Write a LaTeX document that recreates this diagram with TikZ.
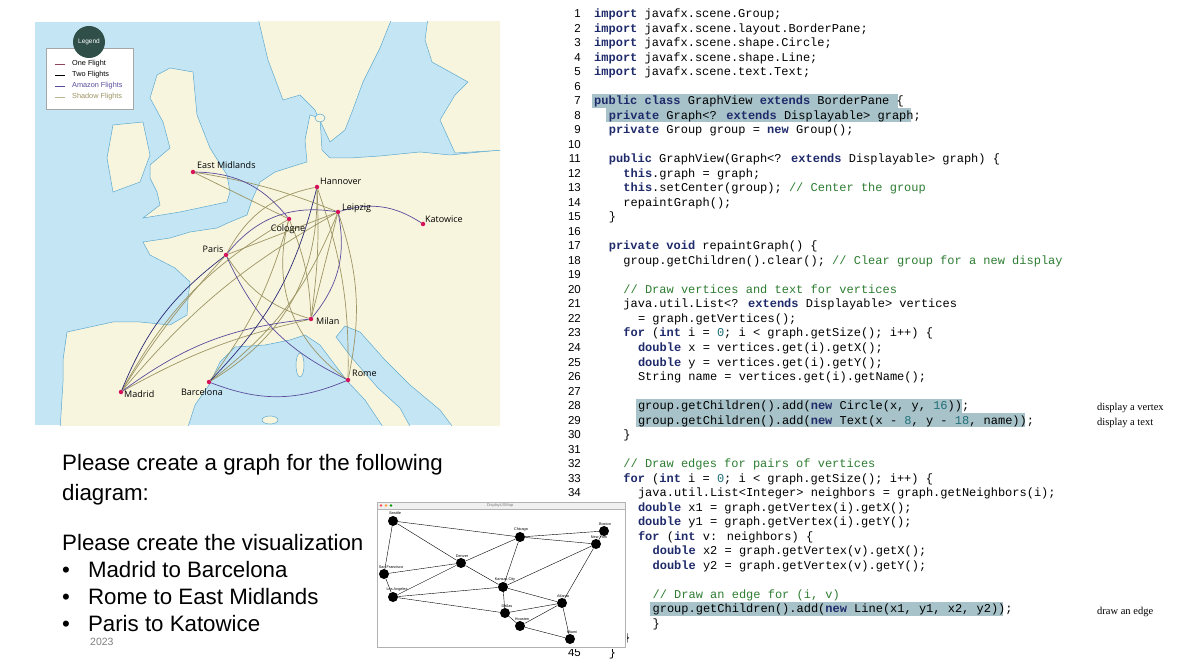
\documentclass[tikz,border=0pt]{standalone}
\usepackage{fontspec}
\setmainfont{Liberation Sans}
\newfontfamily\codefont{Liberation Mono}
\newfontfamily\serfont{Liberation Serif}
\newfontfamily\mapfont{Open Sans}
\definecolor{kwc}{HTML}{1F2A6B}
\definecolor{cmc}{HTML}{2E7D32}
\definecolor{nmc}{HTML}{1F6F7A}
\definecolor{hl}{HTML}{A7C2C8}
\definecolor{sea}{HTML}{C4E5F4}
\definecolor{land}{HTML}{F8F5DE}
\definecolor{coast}{HTML}{5BA9D0}
\definecolor{purp}{HTML}{5A4C9C}
\definecolor{navy}{HTML}{2B2A72}
\definecolor{oliv}{HTML}{9C9463}
\definecolor{city}{HTML}{D6135A}
\definecolor{legc}{HTML}{2F4F48}
\definecolor{onef}{HTML}{8C465A}
\newcommand\kw[1]{\textcolor{kwc}{\textbf{#1}}}
\newcommand\cm[1]{\textcolor{cmc}{#1}}
\newcommand\nm[1]{\textcolor{nmc}{#1}}
\newcommand\cl[3]{\node[codeline] (c#1) at ({594+#2*7.3},{18+(#1-1)*14.5}) {#3};}
\newcommand\lnumb[1]{\node[lnum] (n#1) at (581,{18+(#1-1)*14.5}) {#1};}
\tikzset{
  codeline/.style={anchor=base west,inner sep=0,font=\codefont\fontsize{12.0}{14}\selectfont},
  lnum/.style={anchor=base east,inner sep=0,font=\fontsize{11.5}{14}\selectfont},
  citydot/.style={circle,fill=city,inner sep=0,minimum size=4.5},
  cityname/.style={inner sep=0,font=\mapfont\fontsize{9}{10}\selectfont},
  fl/.style={line width=0.7pt},
  usv/.style={circle,fill=black,inner sep=0,minimum size=10},
  uslab/.style={inner sep=0,font=\fontsize{3.8}{4}\selectfont},
  bigtext/.style={anchor=base west,inner sep=0,font=\fontsize{22.3}{26}\selectfont},
  note/.style={anchor=base west,inner sep=0,font=\serfont\fontsize{10.5}{12}\selectfont}
}
\begin{document}
\begin{tikzpicture}[x=1pt,y=-1pt]
\useasboundingbox (0,0) rectangle (1202,668);
\fill[white] (0,0) rectangle (1202,668);
\begin{scope}
\clip (35,22) rectangle (500,425);
\fill[sea] (35,22) rectangle (500,425);
\begin{scope}[fill=land,draw=coast,line width=0.5pt]
\filldraw (500,150) -- (450,155) -- (420,152) -- (380,156) -- (350,158) -- (330,158) -- (322,150) -- (320,118) -- (310,115) -- (305,140) -- (307,162) -- (297,165) -- (275,172) -- (260,182) -- (252,200) -- (247,215) -- (230,222) -- (217,228) -- (190,232) -- (170,238) -- (143,242) -- (150,255) -- (175,268) -- (190,282) -- (188,300) -- (187,315) -- (170,325) -- (140,322) -- (113,322) -- (67,332) -- (63,360) -- (63,382) -- (60,430) -- (187,430) -- (195,405) -- (209,385) -- (220,362) -- (235,347) -- (265,345) -- (290,340) -- (305,335) -- (320,345) -- (335,365) -- (348,382) -- (365,400) -- (385,430) -- (412,430) -- (400,408) -- (378,388) -- (352,358) -- (336,337) -- (345,326) -- (360,332) -- (385,360) -- (410,385) -- (440,410) -- (455,430) -- (505,430) -- (505,150) -- cycle;
\filldraw (170,68) -- (193,72) -- (197,115) -- (210,148) -- (227,175) -- (230,192) -- (227,202) -- (180,212) -- (143,218) -- (160,205) -- (157,192) -- (150,178) -- (150,165) -- (170,148) -- (163,122) -- (150,98) -- (157,75) -- cycle;
\filldraw (113,125) -- (143,122) -- (150,155) -- (140,182) -- (113,192) -- (107,158) -- cycle;
\filldraw (258,18) -- (268,60) -- (283,100) -- (300,95) -- (315,110) -- (330,142) -- (345,130) -- (352,112) -- (363,82) -- (380,48) -- (392,18) -- cycle;
\filldraw (428,18) -- (505,18) -- (505,150) -- (455,153) -- (440,120) -- (455,95) -- (468,82) -- (432,62) -- (425,40) -- cycle;
\filldraw (300,365) ellipse (4 and 12);
\filldraw (270,420) ellipse (8 and 4);
\filldraw (320,118) ellipse (5 and 4);
\end{scope}
\node[citydot] (em) at (193,172) {};
\node[citydot] (han) at (317,187) {};
\node[citydot] (leip) at (338,212) {};
\node[citydot] (kat) at (423,224) {};
\node[citydot] (col) at (289,219) {};
\node[citydot] (par) at (226,255) {};
\node[citydot] (mil) at (311,319) {};
\node[citydot] (rome) at (348,380) {};
\node[citydot] (bar) at (209,382) {};
\node[citydot] (mad) at (121,392) {};
\begin{scope}[fl,draw=oliv]
\draw (em) -- (col);
\draw (em) to[bend left=6] (leip);
\draw (mad) to[bend left=5] (par);
\draw (mad) to[bend left=8] (mil);
\draw (mad) to[bend left=10] (leip);
\draw (mad) to[bend left=15] (col);
\draw (bar) to[bend right=15] (leip);
\draw (bar) to[bend right=10] (col);
\draw (bar) to[bend right=30] (han);
\draw (par) -- (leip);
\draw (par) to[bend left=25] (han);
\draw (par) to[bend right=20] (mil);
\draw (leip) -- (mil);
\draw (han) to[bend left=5] (mil);
\draw (col) to[bend left=10] (mil);
\draw (leip) to[bend left=15] (rome);
\draw (han) to[bend left=10] (rome);
\draw (col) to[bend right=35] (rome);
\end{scope}
\begin{scope}[fl,draw=purp]
\draw (em) to[bend left=25] (col);
\draw (leip) to[bend left=25] (kat);
\draw (bar) to[bend right=22] (rome);
\draw (par) to[bend right=20] (rome);
\draw (mad) to[bend left=15] (mil);
\draw (par) to[bend left=30] (leip);
\draw (leip) to[bend left=25] (mil);
\end{scope}
\begin{scope}[fl,draw=navy]
\draw (mad) to[bend left=15] (par);
\draw (bar) to[bend right=15] (han);
\end{scope}
\node[cityname,anchor=west] (lem) at (197,165) {East Midlands};
\node[cityname,anchor=west] (lhan) at (320,181) {Hannover};
\node[cityname,anchor=west] (lleip) at (342,208) {Leipzig};
\node[cityname,anchor=west] (lkat) at (425,219) {Katowice};
\node[cityname] (lcol) at (288,229) {Cologne};
\node[cityname] (lpar) at (213,249) {Paris};
\node[cityname,anchor=west] (lmil) at (316,321) {Milan};
\node[cityname,anchor=west] (lrome) at (352,373) {Rome};
\node[cityname] (lbar) at (202,392) {Barcelona};
\node[cityname,anchor=west] (lmad) at (124,394) {Madrid};
\draw[fill=white,draw=gray!70] (46,48) rectangle (133,109);
\node[circle,fill=legc,inner sep=0,minimum size=32,text=white,font=\fontsize{6.5}{7}\selectfont] (leg) at (89,42) {Legend};
\begin{scope}[line width=0.8pt]
\draw[onef] (55,64) -- (65,64);
\draw[black] (55,75) -- (65,75);
\draw[purp] (55,86) -- (65,86);
\draw[oliv!70] (55,97) -- (65,97);
\end{scope}
\begin{scope}[every node/.style={anchor=west,inner sep=0,font=\fontsize{7.3}{8}\selectfont}]
\node (lg1) at (72,64) {One Flight};
\node (lg2) at (72,75) {Two Flights};
\node[text=purp] (lg3) at (72,86) {Amazon Flights};
\node[text=oliv] (lg4) at (72,97) {Shadow Flights};
\end{scope}
\end{scope}
\node[bigtext] (t1) at (62,470) {Please create a graph for the following};
\node[bigtext] (t2) at (62,500) {diagram:};
\node[bigtext] (t3) at (62,550) {Please create the visualization};
\node[bigtext] (b1) at (62,577) {\textbullet\hspace{18pt}Madrid to Barcelona};
\node[bigtext] (b2) at (62,604) {\textbullet\hspace{18pt}Rome to East Midlands};
\node[bigtext] (b3) at (62,631) {\textbullet\hspace{18pt}Paris to Katowice};
\node[anchor=base west,inner sep=0,text=gray,font=\fontsize{10.5}{12}\selectfont] (yr) at (90,645) {2023};
\fill[hl] (592,94) rectangle (898,108);
\fill[hl] (606,108) rectangle (911,122);
\fill[hl] (636,399) rectangle (962,413);
\fill[hl] (636,413) rectangle (1025,427);
\fill[hl] (650,602) rectangle (1003,616);
\foreach \i in {1,...,34,45} {\lnumb{\i}}
\cl{1}{0}{\kw{import} javafx.scene.Group;}
\cl{2}{0}{\kw{import} javafx.scene.layout.BorderPane;}
\cl{3}{0}{\kw{import} javafx.scene.shape.Circle;}
\cl{4}{0}{\kw{import} javafx.scene.shape.Line;}
\cl{5}{0}{\kw{import} javafx.scene.text.Text;}
\cl{7}{0}{\kw{public class} GraphView \kw{extends} BorderPane \{}
\cl{8}{2}{\kw{private} Graph<? \kw{extends} Displayable> graph;}
\cl{9}{2}{\kw{private} Group group = \kw{new} Group();}
\cl{11}{2}{\kw{public} GraphView(Graph<? \kw{extends} Displayable> graph) \{}
\cl{12}{4}{\kw{this}.graph = graph;}
\cl{13}{4}{\kw{this}.setCenter(group); \cm{// Center the group}}
\cl{14}{4}{repaintGraph();}
\cl{15}{2}{\}}
\cl{17}{2}{\kw{private void} repaintGraph() \{}
\cl{18}{4}{group.getChildren().clear(); \cm{// Clear group for a new display}}
\cl{20}{4}{\cm{// Draw vertices and text for vertices}}
\cl{21}{4}{java.util.List<? \kw{extends} Displayable> vertices}
\cl{22}{6}{= graph.getVertices();}
\cl{23}{4}{\kw{for} (\kw{int} i = \nm{0}; i < graph.getSize(); i++) \{}
\cl{24}{6}{\kw{double} x = vertices.get(i).getX();}
\cl{25}{6}{\kw{double} y = vertices.get(i).getY();}
\cl{26}{6}{String name = vertices.get(i).getName();}
\cl{28}{6}{group.getChildren().add(\kw{new} Circle(x, y, \nm{16}));}
\cl{29}{6}{group.getChildren().add(\kw{new} Text(x - \nm{8}, y - \nm{18}, name));}
\cl{30}{4}{\}}
\cl{32}{4}{\cm{// Draw edges for pairs of vertices}}
\cl{33}{4}{\kw{for} (\kw{int} i = \nm{0}; i < graph.getSize(); i++) \{}
\cl{34}{6}{java.util.List<Integer> neighbors = graph.getNeighbors(i);}
\cl{35}{6}{\kw{double} x1 = graph.getVertex(i).getX();}
\cl{36}{6}{\kw{double} y1 = graph.getVertex(i).getY();}
\cl{37}{6}{\kw{for} (\kw{int} v: neighbors) \{}
\cl{38}{8}{\kw{double} x2 = graph.getVertex(v).getX();}
\cl{39}{8}{\kw{double} y2 = graph.getVertex(v).getY();}
\cl{41}{8}{\cm{// Draw an edge for (i, v)}}
\cl{42}{8}{group.getChildren().add(\kw{new} Line(x1, y1, x2, y2));}
\cl{43}{8}{\}}
\cl{44}{4}{\}}
\cl{45}{2}{\}}
\node[note] (a1) at (1097,410) {display a vertex};
\node[note] (a2) at (1097,425) {display a text};
\node[note] (a3) at (1097,614) {draw an edge};
\fill[white] (375,500) rectangle (627,649);
\draw[gray!60,fill=gray!12] (377,502) rectangle (625,509);
\draw[gray!60] (377,509) rectangle (625,647);
\fill[red!70] (381,505.5) circle (1.4);
\fill[orange!80] (386,505.5) circle (1.4);
\fill[green!60!black] (391,505.5) circle (1.4);
\node[inner sep=0,font=\fontsize{4}{4}\selectfont,text=gray] (wt) at (500,505.5) {DisplayUSMap};
\node[usv] (sea) at (393,521) {};
\node[usv] (chi) at (520,537) {};
\node[usv] (bos) at (604,531) {};
\node[usv] (ny) at (596,544) {};
\node[usv] (den) at (461,563) {};
\node[usv] (sf) at (384,574) {};
\node[usv] (kc) at (503,587) {};
\node[usv] (la) at (393,597) {};
\node[usv] (atl) at (562,603) {};
\node[usv] (dal) at (505,613) {};
\node[usv] (hou) at (520,626) {};
\node[usv] (mia) at (570,639) {};
\begin{scope}[line width=0.4pt]
\foreach \a/\b in {sea/sf,sea/chi,sea/den,sf/den,sf/la,la/den,la/kc,la/dal,den/chi,den/kc,chi/bos,chi/ny,chi/kc,bos/ny,ny/kc,ny/atl,kc/atl,kc/dal,dal/atl,dal/hou,hou/atl,hou/mia,atl/mia}
  \draw (\a) -- (\b);
\end{scope}
\begin{scope}[every node/.style={uslab}]
\node (ls1) at (395,513) {Seattle};
\node (ls2) at (521,530) {Chicago};
\node (ls3) at (605,524) {Boston};
\node (ls4) at (599,537) {New York};
\node (ls5) at (462,556) {Denver};
\node (ls6) at (391,567) {San Francisco};
\node (ls7) at (505,580) {Kansas City};
\node (ls8) at (397,590) {Los Angeles};
\node (ls9) at (563,596) {Atlanta};
\node (ls10) at (507,606) {Dallas};
\node (ls11) at (522,619) {Houston};
\node (ls12) at (572,632) {Miami};
\end{scope}
\end{tikzpicture}
\end{document}
